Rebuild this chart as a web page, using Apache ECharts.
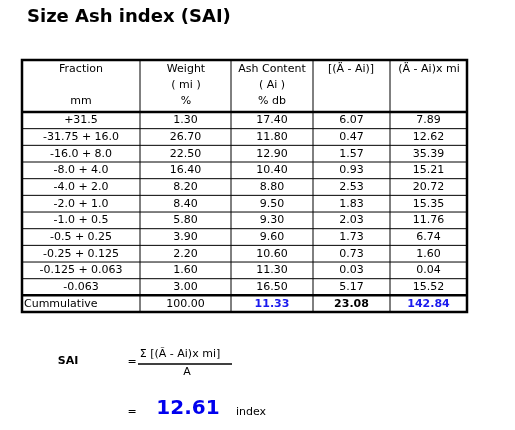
<!DOCTYPE html><html><head><meta charset="utf-8">
<script src="https://cdn.jsdelivr.net/npm/echarts@6/dist/echarts.min.js"></script>
<style>html,body{margin:0;padding:0;background:#fff}#c{width:515px;height:430px}</style></head><body><div id="c"></div>
<script>
const fractions=["+31.5","-31.75 + 16.0","-16.0 + 8.0","-8.0 + 4.0","-4.0 + 2.0","-2.0 + 1.0","-1.0 + 0.5","-0.5 + 0.25","-0.25 + 0.125","-0.125 + 0.063","-0.063"];
const weight=["1.30","26.70","22.50","16.40","8.20","8.40","5.80","3.90","2.20","1.60","3.00"];
const ash=["17.40","11.80","12.90","10.40","8.80","9.50","9.30","9.60","10.60","11.30","16.50"];
const diff=["6.07","0.47","1.57","0.93","2.53","1.83","2.03","1.73","0.73","0.03","5.17"];
const prod=["7.89","12.62","35.39","15.21","20.72","15.35","11.76","6.74","1.60","0.04","15.52"];
const totals=["Cummulative","100.00","11.33","23.08","142.84"];
const sai="12.61";
const colX=[22,140,231,313,390,467];
const F='"DejaVu Sans",Verdana,sans-serif';
const rowsData=fractions.map((f,i)=>[i,f,weight[i],ash[i],diff[i],prod[i]]);
rowsData.push([11].concat(totals));
const tableTop=112,rh=16.67;
const chart=echarts.init(document.getElementById('c'),null,{renderer:'canvas'});
function txt(x,y,s,o){return {type:'text',x:x,y:y,style:Object.assign({text:s,font:'11px '+F,fill:'#000',textAlign:'center',textVerticalAlign:'middle'},o||{})};}
chart.setOption({
animation:false,
grid:{left:0,right:0,top:0,bottom:0},
xAxis:{type:'value',min:0,max:515,show:false},
yAxis:{type:'value',min:0,max:430,inverse:true,show:false},
graphic:[
 txt(27,17,'Size Ash index (SAI)',{font:'bold 18px '+F,textAlign:'left'}),
 txt(81,69,'Fraction'),txt(81,101,'mm'),
 txt(186,69,'Weight'),txt(186,85,'( mi )'),txt(186,101,'%'),
 txt(272,69,'Ash Content'),txt(272,85,'( Ai )'),txt(272,101,'% db'),
 txt(351,69,'[(Ä - Ai)]'),txt(429,69,'(Ä - Ai)x mi'),
 {type:'line',shape:{x1:140,y1:60,x2:140,y2:112},style:{stroke:'#000',lineWidth:1}},
 {type:'line',shape:{x1:231,y1:60,x2:231,y2:112},style:{stroke:'#000',lineWidth:1}},
 {type:'line',shape:{x1:313,y1:60,x2:313,y2:112},style:{stroke:'#000',lineWidth:1}},
 {type:'line',shape:{x1:390,y1:60,x2:390,y2:112},style:{stroke:'#000',lineWidth:1}},
 {type:'rect',z:10,shape:{x:22,y:60,width:445,height:252},style:{fill:'none',stroke:'#000',lineWidth:2.5}},
 txt(68,361,'SAI',{font:'bold 11px '+F}),
 txt(132,362,'='),
 txt(180,354,'Σ [(Ã - Ai)x mi]'),
 {type:'line',shape:{x1:138,y1:364,x2:232,y2:364},style:{stroke:'#000',lineWidth:1.5}},
 txt(187,372,'A'),
 txt(132,412,'='),
 txt(188,409,sai,{font:'bold 20px '+F,fill:'#0000ee'}),
 txt(236,412,'index',{textAlign:'left'})
],
series:[{type:'custom',data:rowsData,renderItem:function(p,api){
 const i=api.value(0),d=rowsData[i];
 const y0=tableTop+i*rh,ch=[];
 const tl=api.coord([colX[0],y0]),br=api.coord([colX[5],y0+rh]);
 ch.push({type:'line',shape:{x1:tl[0],y1:tl[1],x2:br[0],y2:tl[1]},style:{stroke:'#000',lineWidth:(i==0||i==11)?2.5:1}});
 for(let c=0;c<5;c++){
  const a=api.coord([colX[c],y0]),b=api.coord([colX[c+1],y0+rh]);
  if(c>0)ch.push({type:'line',shape:{x1:a[0],y1:a[1],x2:a[0],y2:b[1]},style:{stroke:'#000',lineWidth:1}});
  const last=i==11;
  let st={text:d[c+1],font:(last&&c>=2?'bold ':'')+'11px '+F,fill:(last&&(c==2||c==4))?'#1a1aee':'#000',textAlign:'center',textVerticalAlign:'middle'};
  let x=(a[0]+b[0])/2;
  if(last&&c==0){st.textAlign='left';x=a[0]+2;}
  ch.push({type:'text',x:x,y:(a[1]+b[1])/2,style:st});
 }
 return {type:'group',children:ch};
}}]
});
</script></body></html>
